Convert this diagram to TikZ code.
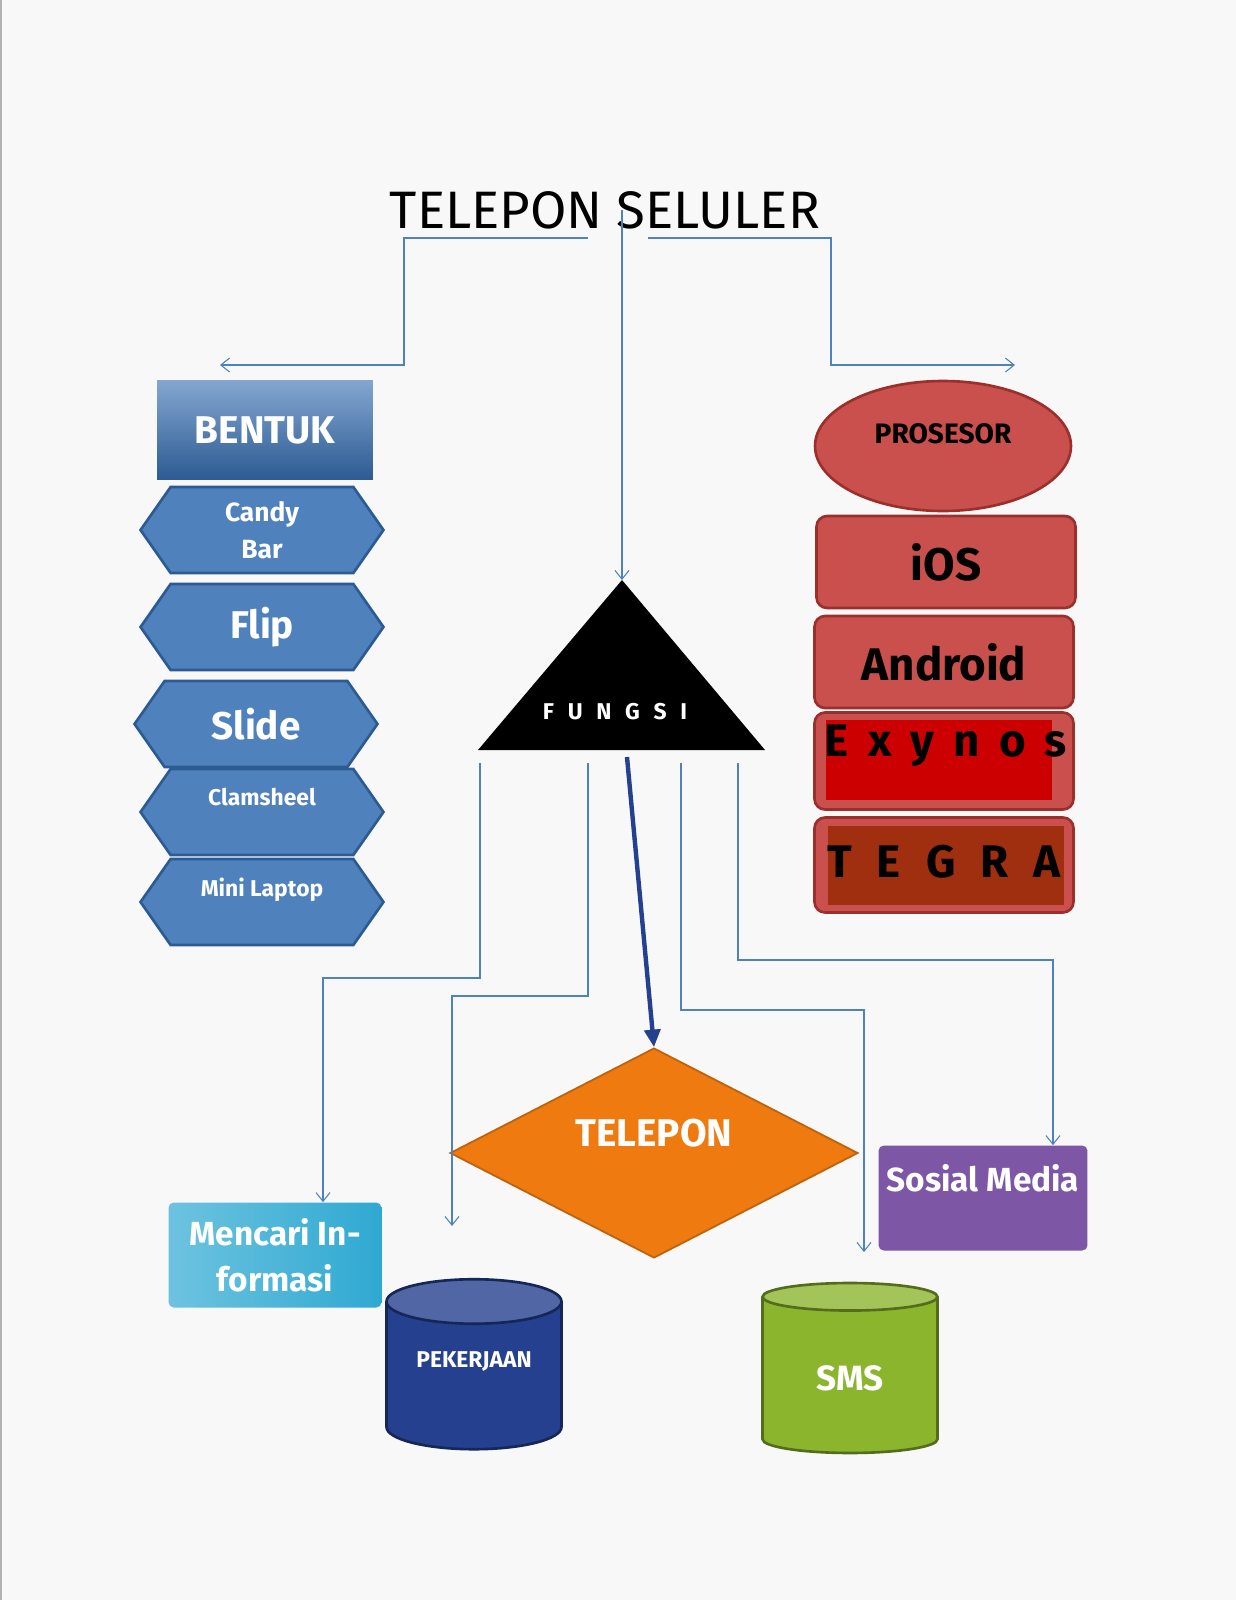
\documentclass[tikz,border=0pt]{standalone}
\usepackage{fontspec}
\setmainfont{Fira Sans}
\usetikzlibrary{shapes.geometric,shapes.symbols,arrows.meta,positioning}
\definecolor{bg}{HTML}{F8F8F8}
\definecolor{blu}{HTML}{4F81BD}
\definecolor{bluedge}{HTML}{2C5A92}
\definecolor{redbox}{HTML}{C9504D}
\definecolor{rededge}{HTML}{9B2F2C}
\definecolor{exy}{HTML}{CC0000}
\definecolor{teg}{HTML}{A02F10}
\definecolor{orng}{HTML}{EE7A10}
\definecolor{cyn}{HTML}{2FA9D2}
\definecolor{purp}{HTML}{7D56A6}
\definecolor{grn}{HTML}{8CB52E}
\definecolor{navy}{HTML}{24408F}
\tikzset{
  link/.style={draw=blu, line width=0.6pt, -{Straight Barb[length=5pt,width=8pt]}},
  hexa/.style={signal, signal to=east and west, signal pointer angle=110, fill=blu, draw=bluedge, line width=1.5pt,
    minimum width=4.86cm, minimum height=1.72cm, text=white, font=\bfseries, align=center},
  osbox/.style={rectangle, rounded corners=6pt, fill=redbox, draw=rededge, line width=1.5pt,
    minimum width=5.18cm, minimum height=1.84cm, font=\bfseries\fontsize{26}{30}\selectfont},
  scroll/.style={rectangle, rounded corners=3pt, text=white, font=\bfseries\fontsize{19}{26}\selectfont, align=center},
  drum/.style={cylinder, shape border rotate=90, aspect=0.35, draw=#1!60!black, line width=1.5pt, text=white,
    font=\bfseries, cylinder uses custom fill, cylinder body fill=#1, cylinder end fill=#1!80!white,
    minimum width=3.5cm, minimum height=3.4cm}
}
\begin{document}
\begin{tikzpicture}[x=0.02cm,y=-0.02cm]
        \fill[bg] (0,0) rectangle (1236,1600);
        \useasboundingbox (0,0) rectangle (1236,1600);
        \draw[gray!60, line width=1pt] (1,0) -- (1,1600);

        \node (TITLE) at (605,210) {\fontsize{30}{34}\selectfont TELEPON SELULER};

        % left column
        \node[rectangle, top color=blu!70!white, bottom color=bluedge, minimum width=4.32cm, minimum height=2cm,
              text=white, font=\bfseries\fontsize{22}{26}\selectfont] (BENTUK) at (265,430) {BENTUK};
        \node[hexa, font=\bfseries\fontsize{15}{21}\selectfont] (CANDY) at (262,530) {Candy\\Bar};
        \node[hexa, font=\bfseries\fontsize{22}{26}\selectfont] (FLIP) at (262,627) {Flip};
        \node[hexa, font=\bfseries\fontsize{22}{26}\selectfont] (SLIDE) at (256,724) {Slide};
        \node[hexa, font=\bfseries\fontsize{13}{16}\selectfont, text depth=0.6cm] (CLAM) at (262,812) {Clamsheel};
        \node[hexa, font=\bfseries\fontsize{13}{16}\selectfont, text depth=0.6cm] (MINI) at (262,902) {Mini Laptop};

        % right column
        \node[ellipse, fill=redbox, draw=rededge, line width=1.5pt, minimum width=5.12cm, minimum height=2.6cm,
              font=\bfseries\fontsize{16}{20}\selectfont, text depth=0.5cm] (PROSESOR) at (943,446) {PROSESOR};
        \node[osbox] (IOS) at (946,562) {iOS};
        \node[osbox] (ANDROID) at (944,662) {Android};
        \node[osbox, minimum height=1.94cm] (EXYNOS) at (944,761) {};
        \node[rectangle, fill=exy, minimum width=4.52cm, minimum height=1.6cm] (EXYIN) at (939,760) {};
        \node[font=\bfseries\fontsize{26}{30}\selectfont] (EXYTXT) at (946,746) {E\hspace{0.42em}x\hspace{0.42em}y\hspace{0.42em}n\hspace{0.42em}o\hspace{0.42em}s};
        \node[osbox, minimum height=1.9cm] (TEGRA) at (944,865) {};
        \node[rectangle, fill=teg, minimum width=4.74cm, minimum height=1.58cm] (TEGIN) at (946,865) {};
        \node[font=\bfseries\fontsize{26}{30}\selectfont] (TEGTXT) at (944,862) {T\hspace{0.55em}E\hspace{0.55em}G\hspace{0.55em}R\hspace{0.55em}A};

        % triangle
        \coordinate (APEX) at (622,580);
        \coordinate (BL) at (478,750);
        \coordinate (BR) at (765,750);
        \fill[black] (APEX) -- (BL) -- (BR) -- cycle;
        \node[text=white, font=\bfseries\fontsize{13}{16}\selectfont] (FUNGSI) at (615,712) {F\hspace{0.6em}U\hspace{0.6em}N\hspace{0.6em}G\hspace{0.6em}S\hspace{0.6em}I};

        % bottom
        \node[diamond, aspect=1.95, fill=orng, draw=orng!80!black, line width=1pt, inner sep=0pt,
              minimum width=8.16cm, minimum height=4.2cm, text=white, font=\bfseries\fontsize{22}{26}\selectfont,
              text depth=0.8cm] (TELEPON) at (654,1153) {TELEPON};
        \node[scroll, left color=cyn!70!white, right color=cyn, minimum width=4.26cm, minimum height=2.1cm] (MENCARI) at (275,1255) {Mencari In-\\formasi};
        \node[scroll, fill=purp, minimum width=4.18cm, minimum height=2.1cm, text depth=0.8cm] (SOSIAL) at (983,1198) {Sosial Media};
        \node[drum=navy, font=\bfseries\fontsize{13}{16}\selectfont, text depth=0.8cm] (PEKERJAAN) at (474,1380) {PEKERJAAN};
        \node[drum=grn, minimum width=3.5cm, font=\bfseries\fontsize{20}{24}\selectfont] (SMS) at (850,1378) {SMS};

        % connectors
        \draw[link] (TITLE.south -| APEX) ++(0,-25) -- (APEX);
        \coordinate (LEND) at (220,365);
        \coordinate (REND) at (1015,365);
        \draw[link] (588,238) -| (404,365) -- (LEND);
        \draw[link] (648,238) -| (831,365) -- (REND);
        \draw[navy, line width=2.5pt, -{Triangle[length=10pt,width=9pt]}] (627,757) -- (TELEPON.north);
        \draw[link] (480,763) |- (323,978) -- (MENCARI.north -| 323,0);
        \draw[link] (588,763) |- (452,996) -- (452,1226);
        \draw[link] (681,763) |- (864,1010) -- (864,1252);
        \draw[link] (738,763) |- (1053,960) -- (SOSIAL.north -| 1053,0);
\end{tikzpicture}
\end{document}
